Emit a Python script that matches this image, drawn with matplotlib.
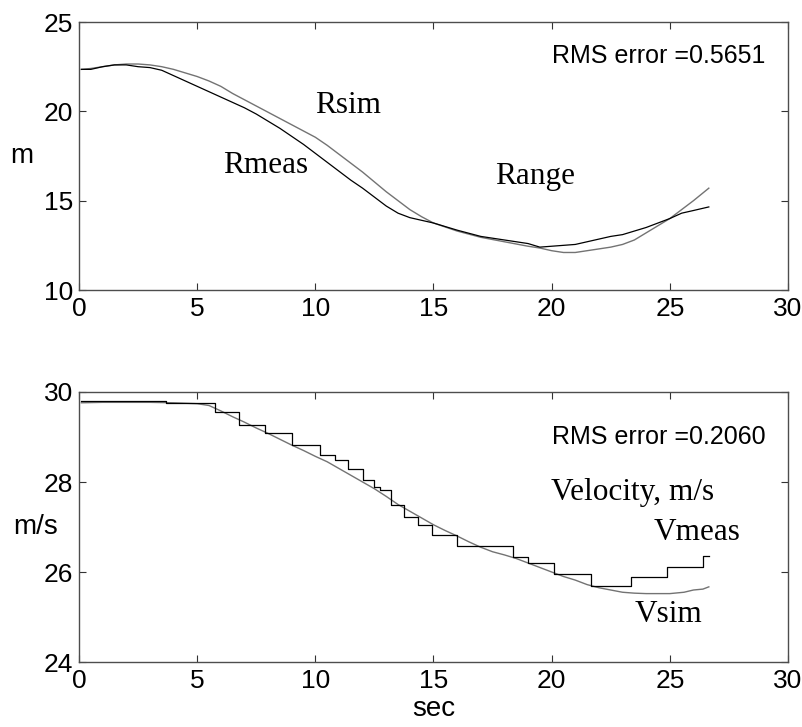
import matplotlib
matplotlib.use("Agg")
import matplotlib.pyplot as plt

# ---- range panel (top) ----
t_rsim = [0.1, 0.5, 1.0, 1.5, 2.0, 2.5, 3.0, 3.5, 4.0, 4.5, 5.0, 5.5, 6.0, 6.5,
          7.0, 7.5, 8.0, 8.5, 9.0, 9.5, 10.0, 10.5, 11.0, 11.5, 12.0, 12.5,
          13.0, 13.5, 14.0, 14.5, 15.0, 16.0, 17.0, 18.0, 19.0, 19.5, 20.0,
          20.5, 21.0, 21.5, 22.0, 22.5, 23.0, 23.5, 24.0, 24.5, 25.0, 25.5,
          26.0, 26.65]
rsim = [22.35, 22.4, 22.5, 22.6, 22.65, 22.65, 22.6, 22.5, 22.35, 22.15, 21.95,
        21.7, 21.4, 21.0, 20.65, 20.3, 19.95, 19.6, 19.25, 18.9, 18.55, 18.1,
        17.6, 17.1, 16.6, 16.05, 15.5, 15.0, 14.5, 14.1, 13.75, 13.3, 12.95,
        12.7, 12.45, 12.35, 12.2, 12.1, 12.1, 12.2, 12.3, 12.4, 12.55, 12.8,
        13.2, 13.6, 14.0, 14.5, 15.0, 15.7]

t_rmeas = [0.1, 0.5, 1.0, 1.5, 2.0, 2.5, 3.0, 3.5, 4.0, 4.5, 5.0, 5.5, 6.0, 6.5,
           7.0, 7.5, 8.0, 8.5, 9.0, 9.5, 10.0, 10.5, 11.0, 11.5, 12.0, 12.5,
           13.0, 13.5, 14.0, 14.5, 15.0, 16.0, 17.0, 18.0, 19.0, 19.5, 20.0,
           20.5, 21.0, 21.5, 22.0, 22.5, 23.0, 23.5, 24.0, 24.5, 25.0, 25.5,
           26.0, 26.65]
rmeas = [22.35, 22.35, 22.5, 22.6, 22.6, 22.5, 22.45, 22.3, 22.0, 21.7, 21.4,
         21.1, 20.8, 20.5, 20.2, 19.85, 19.45, 19.05, 18.6, 18.15, 17.65, 17.15,
         16.65, 16.15, 15.7, 15.2, 14.7, 14.3, 14.05, 13.9, 13.75, 13.35, 13.0,
         12.8, 12.6, 12.4, 12.45, 12.5, 12.55, 12.7, 12.85, 13.0, 13.1, 13.3,
         13.5, 13.75, 14.0, 14.3, 14.45, 14.65]

# ---- velocity panel (bottom) ----
t_vsim = [0.1, 1, 2, 3, 4, 5, 5.5, 6.0, 6.5, 7.0, 7.5, 8.0, 8.5, 9.0, 9.5, 10.0,
          10.5, 11.0, 11.5, 12.0, 12.5, 13.0, 13.5, 14.0, 14.5, 15.0, 15.5,
          16.0, 16.5, 17.0, 17.5, 18.0, 18.5, 19.0, 19.5, 20.0, 20.5, 21.0,
          21.5, 22.0, 22.5, 23.0, 23.5, 24.0, 25.0, 25.6, 26.0, 26.4, 26.65]
vsim = [29.76, 29.77, 29.77, 29.77, 29.76, 29.74, 29.7, 29.58, 29.45, 29.33,
        29.2, 29.08, 28.95, 28.82, 28.7, 28.57, 28.45, 28.3, 28.15, 28.0, 27.85,
        27.68, 27.5, 27.35, 27.2, 27.05, 26.92, 26.8, 26.67, 26.55, 26.45,
        26.38, 26.3, 26.2, 26.1, 26.0, 25.9, 25.82, 25.72, 25.65, 25.6, 25.55,
        25.53, 25.52, 25.52, 25.55, 25.6, 25.62, 25.67]

t_vmeas = [0.1, 3.7, 5.76, 6.75, 7.88, 9.0, 10.2, 10.85, 11.4, 12.0, 12.5,
           12.75, 13.2, 13.75, 14.35, 14.95, 16.0, 18.35, 19.0, 20.1, 21.65,
           23.35, 24.9, 26.4, 26.65]
vmeas = [29.8, 29.76, 29.55, 29.27, 29.08, 28.82, 28.6, 28.5, 28.3, 28.05,
         27.9, 27.82, 27.5, 27.22, 27.04, 26.82, 26.58, 26.33, 26.2, 25.95,
         25.7, 25.9, 26.12, 26.35, 26.35]

sans = "Liberation Sans"
serif = "Liberation Serif"
plt.rcParams["font.family"] = sans

fig = plt.figure(figsize=(8.03, 7.27), dpi=100)
ax1 = fig.add_axes([0.0984, 0.6011, 0.8829, 0.3686])
ax2 = fig.add_axes([0.0984, 0.0894, 0.8829, 0.3714])

ax1.plot(t_rsim, rsim, color="0.45", lw=1.0)
ax1.plot(t_rmeas, rmeas, color="black", lw=0.9)
ax1.set_xlim(0, 30)
ax1.set_ylim(10, 25)
ax1.set_yticks([10, 15, 20, 25])
ax1.set_ylabel("m", rotation=0, fontsize=20, labelpad=16, va="center")
ax1.text(20.0, 22.7, "RMS error =0.5651", fontsize=18)
ax1.text(10.0, 19.9, "Rsim", family=serif, fontsize=22.5)
ax1.text(6.1, 16.55, "Rmeas", family=serif, fontsize=22.5)
ax1.text(17.6, 15.93, "Range", family=serif, fontsize=22.5)

ax2.plot(t_vsim, vsim, color="0.45", lw=1.0)
ax2.step(t_vmeas, vmeas, where="post", color="black", lw=0.9)
ax2.set_xlim(0, 30)
ax2.set_ylim(24, 30)
ax2.set_yticks([24, 26, 28, 30])
ax2.set_ylabel("m/s", rotation=0, fontsize=20, labelpad=6, va="center")
ax2.set_xlabel("sec", fontsize=20, labelpad=2)
ax2.text(20.0, 28.84, "RMS error =0.2060", fontsize=18)
ax2.text(19.96, 27.6, "Velocity, m/s", family=serif, fontsize=22.5)
ax2.text(24.3, 26.71, "Vmeas", family=serif, fontsize=22.5)
ax2.text(23.5, 24.89, "Vsim", family=serif, fontsize=22.5)

for ax in (ax1, ax2):
    ax.set_xticks([0, 5, 10, 15, 20, 25, 30])
    ax.tick_params(direction="in", top=True, right=True, length=5,
                   width=0.8, labelsize=19, color="0.2")
    ax.tick_params(axis="x", pad=5)
    ax.tick_params(axis="y", pad=4)
    for s in ax.spines.values():
        s.set_color("0.3")
        s.set_linewidth(1.0)

fig.savefig("out.png", dpi=100)
